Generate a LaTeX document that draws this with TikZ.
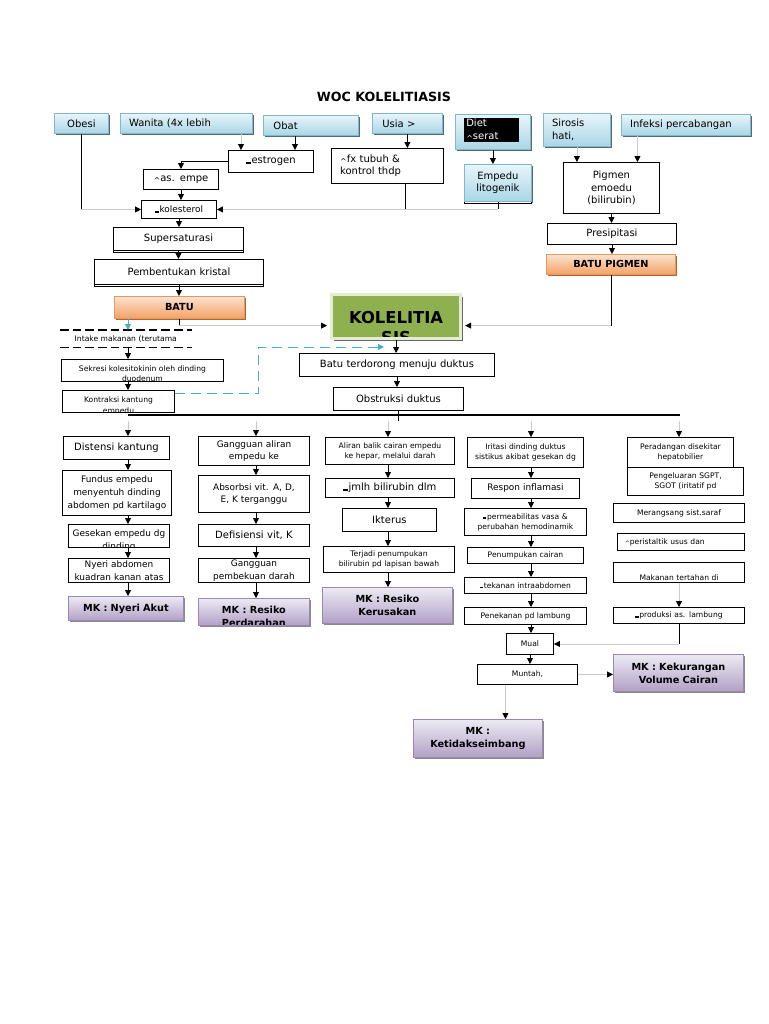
\documentclass[tikz,border=0pt]{standalone}
\usepackage{fontspec}
\setmainfont{DejaVu Sans}
\usetikzlibrary{arrows.meta,shadows,calc}
\definecolor{blueT}{HTML}{E8F5FA}
\definecolor{blueB}{HTML}{A9D6E6}
\definecolor{blueD}{HTML}{86B6CA}
\definecolor{blueS}{HTML}{4E6B78}
\definecolor{orgT}{HTML}{FCE3CF}
\definecolor{orgB}{HTML}{F3A165}
\definecolor{orgD}{HTML}{E39A62}
\definecolor{orgS}{HTML}{B0672E}
\definecolor{purT}{HTML}{EEEAF4}
\definecolor{purB}{HTML}{B1A0C6}
\definecolor{purD}{HTML}{9A87B5}
\definecolor{purS}{HTML}{8A8A8A}
\definecolor{grnF}{HTML}{8EB04F}
\definecolor{grnB}{HTML}{E4ECD4}
\definecolor{cyanc}{HTML}{4BACC6}
\newcommand\fL{\fontsize{7.5}{9.4}\selectfont}
\newcommand\fM{\fontsize{6.7}{9.5}\selectfont}
\newcommand\fS{\fontsize{5.7}{7.6}\selectfont}
\newcommand\fB{\bfseries\fontsize{7.3}{9.8}\selectfont}
\newcommand\upk{\raisebox{-0.35ex}{\scalebox{0.8}{\textasciicircum}}}
\newcommand\dnk{\rule{0.42em}{0.2em}\hspace{0.1em}}
\newcommand\bx[7]{%
  \pgfmathsetmacro\bxw{(#5-#3)*0.75-3}%
  \pgfmathsetmacro\bxh{(#6-#4)*0.75}%
  \node[align=center,#2,anchor=north west,inner xsep=1.5pt,inner ysep=0pt,
        text width=\bxw pt,minimum height=\bxh pt] (#1) at (#3,#4) {#7};}
\newcommand\cbx[9]{%
  \pgfmathsetmacro\bxw{(#5-#3)*0.75}%
  \pgfmathsetmacro\bxh{(#6-#4)*0.75}%
  \pgfmathsetmacro\cbo{#7*0.75}%
  \node[#2,anchor=north west,inner sep=0pt,minimum width=\bxw pt,minimum height=\bxh pt,
        path picture={\node[anchor=north,align=center,font=#8,inner sep=0pt]
          at ([yshift=-\cbo pt]path picture bounding box.north) {#9};}] (#1) at (#3,#4) {};}
\tikzset{
  bb/.style={draw=black,line width=0.7pt,fill=white},
  blu/.style={draw=blueD,line width=0.6pt,top color=blueT,bottom color=blueB,
     drop shadow={shadow xshift=1.3pt,shadow yshift=-1.3pt,fill=blueS,opacity=1}},
  org/.style={draw=orgD,line width=0.6pt,top color=orgT,bottom color=orgB,
     drop shadow={shadow xshift=1.2pt,shadow yshift=-1.2pt,fill=orgS,opacity=1}},
  pur/.style={draw=purD,line width=0.6pt,top color=purT,bottom color=purB,
     drop shadow={shadow xshift=1.3pt,shadow yshift=-1.3pt,fill=purS,opacity=1}},
  grn/.style={draw=grnB,line width=2.4pt,fill=grnF,
     drop shadow={shadow xshift=1.5pt,shadow yshift=-1.5pt,fill=black!60,opacity=1}},
  dbl/.style={general shadow={shadow xshift=0pt,shadow yshift=-1.6pt,fill=white,draw=black,line width=0.6pt}},
  line/.style={line width=0.6pt},
  arr/.style={line width=0.6pt,-{Triangle[length=4.5pt,width=4.5pt]}},
  garr/.style={draw=gray!40,line width=0.6pt,-{Triangle[length=4.5pt,width=4.5pt,color=black]}},
  cyarr/.style={draw=cyanc,line width=0.7pt,dash pattern=on 7.5pt off 4.5pt,-{Triangle[length=4.5pt,width=4.5pt]}},
  dsh/.style={line width=0.8pt,dash pattern=on 6.5pt off 3pt}
}
\begin{document}
\begin{tikzpicture}[x=0.75pt,y=-0.75pt]
\fill[white] (0,0) rectangle (768,1024);
\useasboundingbox (0,0) rectangle (768,1024);

\node[font=\bfseries\fontsize{9.5}{11}\selectfont] (title) at (384,97) {WOC KOLELITIASIS};

% top row
\bx{obesi}{blu,font=\fL}{54}{113}{108}{133}{Obesi}
\bx{wanita}{blu,font=\fL,align=left}{120}{113}{252}{133}{\hspace*{5pt}Wanita (4x lebih}
\bx{obat}{blu,font=\fL,align=left}{263}{115}{358}{135}{\hspace*{6pt}Obat}
\bx{usia}{blu,font=\fL,align=left}{372}{113}{442}{133}{\hspace*{6pt}Usia >}
\bx{dietb}{blu}{455}{114}{530}{149}{}
\bx{diet}{fill=black,text=white,font=\fL,align=left}{464}{118}{519}{142}{Diet\\\upk serat}
\bx{sirosis}{blu,font=\fL,align=left}{543}{113}{610}{146}{\hspace*{5pt}Sirosis\\\hspace*{5pt}hati,}
\bx{infeksi}{blu,font=\fL,align=left}{621}{114}{750}{135}{\hspace*{5pt}Infeksi percabangan}

% left branch
\bx{estrogen}{bb,font=\fL}{228}{150}{313}{172}{\dnk estrogen}
\bx{fx}{bb,font=\fL,align=left}{331}{148}{443}{183}{\hspace*{5pt}\upk fx tubuh \&\\\hspace*{5pt}kontrol thdp}
\bx{empedu}{blu,dbl,font=\fL}{464}{164}{531}{201}{Empedu\\litogenik}
\bx{pigmen}{bb,font=\fL}{563}{162}{659}{213}{Pigmen\\emoedu\\(bilirubin)}
\bx{asempe}{bb,font=\fL}{143}{169}{218}{189}{\upk as. empe}
\bx{kolest}{bb,font=\fM}{141}{200}{216}{218}{\dnk kolesterol}
\bx{super}{bb,dbl,font=\fL}{113}{227}{243}{250}{Supersaturasi}
\bx{kristal}{bb,dbl,font=\fL}{94}{259}{263}{284}{Pembentukan kristal}
\bx{batu}{org,font=\fB}{114}{296}{244}{318}{BATU}
\bx{presip}{bb,font=\fL}{547}{223}{676}{244}{Presipitasi}
\bx{batup}{org,font=\fB}{546}{254}{675}{274}{BATU PIGMEN}
\cbx{kole}{grn}{330}{293}{459}{337}{9}{\bfseries\fontsize{12.3}{15}\selectfont}{KOLELITIA\\SIS}

% middle
\bx{intake}{font=\fS}{60}{330}{191}{347}{Intake makanan (terutama}
\draw[dsh] (intake.north west) -- (intake.north east);
\draw[dsh] (intake.south west) -- (intake.south east);
\cbx{sekresi}{bb}{61}{359}{223}{381}{3}{\fS}{Sekresi kolesitokinin oleh dinding\\duodenum}
\cbx{kontraksi}{bb}{62}{390}{174}{412}{4}{\fS}{Kontraksi kantung\\empedu}
\bx{terdorong}{bb,font=\fL}{299}{353}{494}{376}{Batu terdorong menuju duktus}
\bx{obstr}{bb,font=\fL}{333}{387}{463}{410}{Obstruksi duktus}

% column 1
\bx{ca1}{bb,font=\fL}{63}{436}{169}{459}{Distensi kantung}
\bx{ca2}{bb,font=\fM}{62}{470}{171}{515}{Fundus empedu\\menyentuh dinding\\abdomen pd kartilago}
\cbx{ca3}{bb}{68}{524}{169}{547}{4}{\fM}{Gesekan empedu dg\\dinding}
\bx{ca4}{bb,font=\fM}{68}{558}{169}{582}{Nyeri abdomen\\kuadran kanan atas}
\bx{mk1}{pur,font=\fB}{68}{596}{183}{620}{MK : Nyeri Akut}
% column 2
\bx{cb1}{bb,font=\fM}{198}{436}{309}{465}{Gangguan aliran\\empedu ke}
\bx{cb2}{bb,font=\fM}{198}{475}{309}{512}{Absorbsi vit. A, D,\\E, K terganggu}
\bx{cb3}{bb,font=\fL}{198}{524}{309}{546}{Defisiensi vit, K}
\bx{cb4}{bb,font=\fM}{198}{558}{309}{582}{Gangguan\\pembekuan darah}
\cbx{mk2}{pur}{198}{598}{309}{625}{4}{\fB}{MK : Resiko\\Perdarahan}
% column 3
\bx{cc1}{bb,font=\fS}{325}{437}{454}{464}{Aliran balik cairan empedu\\ke hepar, melalui darah}
\bx{cc2}{bb,font=\fL}{325}{478}{454}{497}{\dnk jmlh bilirubin dlm}
\bx{cc3}{bb,font=\fL}{342}{508}{436}{531}{Ikterus}
\bx{cc4}{bb,font=\fS}{323}{546}{454}{572}{Terjadi penumpukan\\bilirubin pd lapisan bawah}
\bx{mk3}{pur,font=\fB}{322}{587}{452}{623}{MK : Resiko\\Kerusakan}
% column 4
\bx{cd1}{bb,font=\fS}{467}{437}{583}{467}{Iritasi dinding duktus\\sistikus akibat gesekan dg}
\bx{cd2}{bb,font=\fM}{471}{478}{579}{498}{Respon inflamasi}
\bx{cd3}{bb,font=\fS}{464}{508}{586}{535}{\dnk permeabilitas vasa \&\\perubahan hemodinamik}
\bx{cd4}{bb,font=\fS}{467}{547}{583}{563}{Penumpukan cairan}
\bx{cd5}{bb,font=\fS}{464}{577}{586}{593}{\dnk tekanan intraabdomen}
\bx{cd6}{bb,font=\fS}{464}{607}{586}{624}{Penekanan pd lambung}
% column 5
\bx{ce1}{bb,font=\fS}{627}{437}{733}{467}{Peradangan disekitar\\hepatobilier}
\bx{ce2}{bb,font=\fS}{627}{467}{743}{495}{Pengeluaran SGPT,\\SGOT (iritatif pd}
\bx{ce3}{bb,font=\fS}{613}{503}{744}{522}{Merangsang sist.saraf}
\bx{ce4}{bb,font=\fS,align=left}{617}{533}{744}{550}{\hspace*{4pt}\upk peristaltik usus dan}
\cbx{ce5}{bb}{613}{562}{744}{582}{5}{\fS}{Makanan tertahan di}
\bx{ce6}{bb,font=\fS}{613}{607}{744}{623}{\dnk produksi as. lambung}
% bottom
\bx{mual}{bb,font=\fS}{506}{633}{553}{654}{Mual}
\bx{muntah}{bb,font=\fS}{477}{664}{577}{684}{Muntah,}
\bx{mk4}{pur,font=\fB}{613}{654}{743}{691}{MK : Kekurangan\\Volume Cairan}
\bx{mk5}{pur,font=\fB}{413}{719}{542}{757}{MK :\\Ketidakseimbang}

% helper coordinates
\coordinate (x1) at (128,0);
\coordinate (x2) at (256,0);
\coordinate (x3) at (388,0);
\coordinate (x4) at (531,0);
\coordinate (x5) at (679,0);
\coordinate (hL) at (128,415);
\coordinate (hR) at (680,415);
\coordinate (hB) at (0,421);

% top connectors
\coordinate (a1) at ($(estrogen.north)+(-30,0)$);
\coordinate (a2) at ($(estrogen.north)+(24,0)$);
\draw[garr] (wanita.south -| a1) -- (a1);
\draw[arr] (obat.south -| a2) -- (a2);
\draw[arr] (estrogen.west) -| (asempe.north);
\draw[arr] (asempe.south) -- (asempe.south |- kolest.north);
\draw[line] (obesi.south) -- (obesi.south |- kolest.west);
\draw[garr] (obesi.south |- kolest.west) -- (kolest.west);
\coordinate (j1) at ($(fx.south)+(18,0)$);
\draw[line] (j1) -- (j1 |- kolest.east);
\draw[line] (empedu.south) -- (empedu.south |- kolest.east);
\draw[garr] (empedu.south |- kolest.east) -- (kolest.east);
\draw[arr] (usia.south) -- (usia.south |- fx.north);
\draw[arr] (dietb.south) -- (dietb.south |- empedu.north);
\draw[garr] (sirosis.south) -- (sirosis.south |- pigmen.north);
\coordinate (a3) at ($(pigmen.north)+(26,0)$);
\draw[garr] (infeksi.south -| a3) -- (a3);
\draw[arr] (pigmen.south) -- (pigmen.south |- presip.north);
\draw[arr] (presip.south) -- (presip.south |- batup.north);
\draw[arr] (kolest.south) -- (kolest.south |- super.north);
\draw[arr] (super.south) -- (super.south |- kristal.north);
\draw[arr] (kristal.south) -- (kristal.south |- batu.north);

% to KOLELITIASIS
\coordinate (kR) at ($(kole.east)+(3,9)$);
\coordinate (kL) at ($(kole.west)+(-3,9)$);
\draw[line] (batup.south) -- (batup.south |- kR);
\draw[garr] (batup.south |- kR) -- (kR);
\draw[line] (batu.south) -- (batu.south |- kL);
\draw[garr] (batu.south |- kL) -- (kL);

% middle connectors
\draw[cyarr] (batu.south -| x1) -- (intake.north -| x1);
\draw[arr] (intake.south -| x1) -- (sekresi.north -| x1);
\draw[arr] (sekresi.south -| x1) -- (kontraksi.north -| x1);
\coordinate (c1) at ($(kontraksi.east)+(0,-8)$);
\coordinate (c2) at ($(terdorong.north)+(-13,-6)$);
\draw[cyarr] (c1) -- ++(84,0) |- (c2);
\draw[arr] (kole.south) -- (kole.south |- terdorong.north);
\draw[arr] (terdorong.south) -- (terdorong.south |- obstr.north);
\draw[line] (obstr.south) -- ++(0,10);
\draw[line width=0.9pt] (hL) -- (hR);

% column arrows
\draw[garr] (x1 |- hB) -- (ca1.north -| x1);
\draw[garr] (x2 |- hB) -- (cb1.north -| x2);
\draw[garr] (x3 |- hB) -- (cc1.north -| x3);
\draw[garr] (x4 |- hB) -- (cd1.north -| x4);
\draw[garr] (x5 |- hB) -- (ce1.north -| x5);
\foreach \a/\b/\x in {ca1/ca2/x1,ca2/ca3/x1,ca3/ca4/x1,ca4/mk1/x1,
  cb1/cb2/x2,cb2/cb3/x2,cb3/cb4/x2,cb4/mk2/x2,
  cc1/cc2/x3,cc2/cc3/x3,cc3/cc4/x3,cc4/mk3/x3,
  cd1/cd2/x4,cd2/cd3/x4,cd3/cd4/x4,cd4/cd5/x4,cd5/cd6/x4,cd6/mual/x4}
  \draw[arr] (\a.south -| \x) -- (\b.north -| \x);
\draw[garr] (ce5.south -| x5) -- (ce6.north -| x5);
\draw[line] (ce6.south -| x5) -- (x5 |- mual.east);
\draw[garr] (x5 |- mual.east) -- (mual.east);
\draw[arr] (mual.south) -- (mual.south |- muntah.north);
\draw[garr] (muntah.east) -- (mk4.west |- muntah.east);
\coordinate (m5) at ($(muntah.south)+(-22,0)$);
\draw[garr] (m5) -- (m5 |- mk5.north);
\end{tikzpicture}
\end{document}
